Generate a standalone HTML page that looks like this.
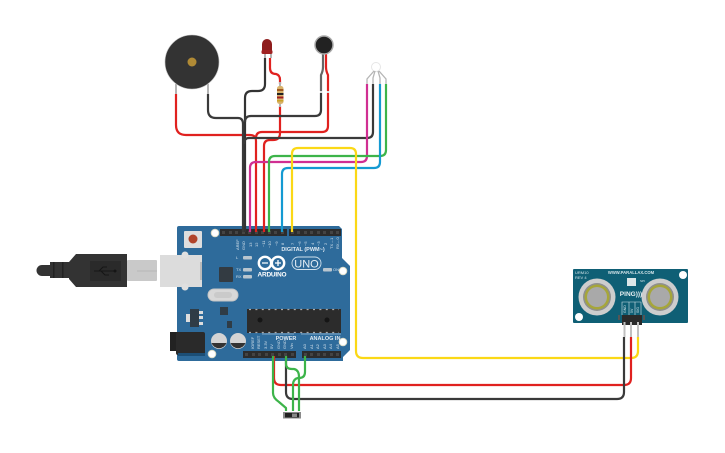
<!DOCTYPE html>
<html><head><meta charset="utf-8"><style>
html,body{margin:0;padding:0;background:#fff;width:725px;height:453px;overflow:hidden}
svg{display:block;filter:blur(.35px)}
text{font-family:"Liberation Sans",sans-serif}
.w{fill:none;stroke-width:2.2;stroke-linejoin:round;stroke-linecap:butt}
</style></head><body>
<svg width="725" height="453" viewBox="0 0 725 453" xmlns="http://www.w3.org/2000/svg">
<!-- USB cable -->
<path d="M50 265H42a5.500 5.500 0 0 0 0 11H50z" fill="#333"/>
<rect x="50" y="262" width="19" height="16" fill="#333"/>
<rect x="53" y="262" width="1.500" height="16" fill="#222"/><rect x="62" y="262" width="1.500" height="16" fill="#222"/>
<path d="M69 262L76 254H127V287H76L69 279z" fill="#333"/>
<rect x="90" y="261" width="31" height="20" fill="#2a2a2a"/>
<path d="M94 271H114M99 271L103 267H107M101 271L105 275H109" stroke="#151515" fill="none"/><circle cx="115" cy="271" r="1.500" fill="#151515"/>
<rect x="127" y="260" width="30" height="21" rx="1" fill="#c9c9c9"/>
<path d="M137 271H157" stroke="#b8b8b8"/>
<!-- Board -->
<path d="M179 226H339L342 229V258L350 266V350L343 357V361H179Q177 361 177 359V228Q177 226 179 226z" fill="#2e6b9b"/>
<rect x="160" y="255" width="42" height="32" fill="#dcdcdc"/>
<rect x="200" y="262" width="2" height="18" fill="#bbb"/>
<circle cx="185" cy="255" r="3.500" fill="#e0e0e0"/><circle cx="185" cy="287" r="3.500" fill="#e0e0e0"/>
<rect x="184" y="231" width="18" height="17" rx="1" fill="#dedede"/>
<circle cx="193" cy="239" r="4.500" fill="#b0432a"/>
<circle cx="215" cy="233" r="3.800" fill="#fff" stroke="#dcdcc8"/>
<circle cx="343" cy="271" r="3.800" fill="#fff" stroke="#dcdcc8"/>
<circle cx="343" cy="342" r="3.800" fill="#fff" stroke="#dcdcc8"/>
<circle cx="212" cy="354" r="3.800" fill="#fff" stroke="#dcdcc8"/>
<!-- headers -->
<g fill="#2c2c2c">
<rect x="220" y="229" width="67" height="7"/><rect x="289" y="229" width="52" height="7"/>
<rect x="243" y="351" width="53" height="7"/><rect x="302" y="351" width="39" height="7"/>
</g>
<g fill="#444">
<path d="M222 231h3v3h-3zM229 231h3v3h-3zM235 231h3v3h-3zM242 231h3v3h-3zM248 231h3v3h-3zM255 231h3v3h-3zM261 231h3v3h-3zM268 231h3v3h-3zM274 231h3v3h-3zM281 231h3v3h-3zM291 231h3v3h-3zM297 231h3v3h-3zM304 231h3v3h-3zM310 231h3v3h-3zM317 231h3v3h-3zM323 231h3v3h-3zM330 231h3v3h-3zM336 231h3v3h-3z"/>
<path d="M245 353h3v3h-3zM252 353h3v3h-3zM258 353h3v3h-3zM265 353h3v3h-3zM271 353h3v3h-3zM278 353h3v3h-3zM284 353h3v3h-3zM291 353h3v3h-3zM304 353h3v3h-3zM310 353h3v3h-3zM317 353h3v3h-3zM323 353h3v3h-3zM330 353h3v3h-3zM336 353h3v3h-3z"/>
</g>
<!-- pin labels -->
<g fill="#d5e2ec" font-size="4">
<text transform="translate(239,250) rotate(-90)">AREF</text>
<text transform="translate(245,250) rotate(-90)">GND</text>
<text transform="translate(252,247) rotate(-90)">13</text>
<text transform="translate(258,247) rotate(-90)">12</text>
<text transform="translate(265,247) rotate(-90)">~11</text>
<text transform="translate(271,248) rotate(-90)">~10</text>
<text transform="translate(278,246) rotate(-90)">~9</text>
<text transform="translate(284,245) rotate(-90)">8</text>
<text transform="translate(294,245) rotate(-90)">7</text>
<text transform="translate(301,246) rotate(-90)">~6</text>
<text transform="translate(307,246) rotate(-90)">~5</text>
<text transform="translate(314,245) rotate(-90)">4</text>
<text transform="translate(320,246) rotate(-90)">~3</text>
<text transform="translate(327,245) rotate(-90)">2</text>
<text transform="translate(333,249) rotate(-90)">TX→1</text>
<text transform="translate(339,249) rotate(-90)">RX←0</text>
<text transform="translate(254,349) rotate(-90)">IOREF</text>
<text transform="translate(260,349) rotate(-90)">RESET</text>
<text transform="translate(267,349) rotate(-90)">3.3V</text>
<text transform="translate(273,349) rotate(-90)">5V</text>
<text transform="translate(280,349) rotate(-90)">GND</text>
<text transform="translate(286,349) rotate(-90)">GND</text>
<text transform="translate(293,349) rotate(-90)">Vin</text>
<text transform="translate(306,349) rotate(-90)">A0</text>
<text transform="translate(313,349) rotate(-90)">A1</text>
<text transform="translate(319,349) rotate(-90)">A2</text>
<text transform="translate(326,349) rotate(-90)">A3</text>
<text transform="translate(332,349) rotate(-90)">A4</text>
<text transform="translate(339,349) rotate(-90)">A5</text>
</g>
<text x="303" y="251" font-size="5.500" font-weight="bold" fill="#dfe9f1" text-anchor="middle">DIGITAL (PWM~)</text>
<text x="286" y="340" font-size="5.500" font-weight="bold" fill="#dfe9f1" text-anchor="middle">POWER</text>
<text x="325" y="340" font-size="5.500" font-weight="bold" fill="#dfe9f1" text-anchor="middle">ANALOG IN</text>
<path d="M262 334H294M301 334H341" stroke="#9fbcd2" stroke-width=".8"/>
<!-- leds -->
<g fill="#b9c6cf">
<rect x="243" y="256" width="9" height="3.500" rx="1"/>
<rect x="243" y="268" width="9" height="3.500" rx="1"/>
<rect x="243" y="275" width="9" height="3.500" rx="1"/>
<rect x="323" y="268" width="9" height="3.500" rx="1"/>
</g>
<g fill="#d5e2ec" font-size="4"><text x="236" y="259">L</text><text x="236" y="271">TX</text><text x="236" y="278">RX</text><text x="333" y="271">ON</text></g>
<!-- logo -->
<g fill="none" stroke="#fff" stroke-width="2.400">
<circle cx="265" cy="263" r="6.200"/><circle cx="278" cy="263" r="6.200"/>
</g>
<path d="M262 263h6M275 263h6M278 260v6" stroke="#fff" stroke-width="1.300"/>
<text x="272" y="276.500" font-size="6.500" font-weight="bold" fill="#fff" text-anchor="middle" textLength="29">ARDUINO</text>
<rect x="292" y="257" width="29" height="12.500" rx="6.200" fill="none" stroke="#cfe0ec" stroke-width=".9"/>
<text x="306.500" y="267.300" font-size="11" fill="#e4eef5" text-anchor="middle">UNO</text>
<!-- components on board -->
<rect x="219" y="267" width="14" height="15" rx="1" fill="#333b42"/>
<rect x="208" y="289" width="30" height="12" rx="6" fill="#d8d8d8" stroke="#c5c5c5"/>
<rect x="214" y="292" width="18" height="6" rx="3" fill="#cacaca"/>
<rect x="220" y="307" width="8" height="8" fill="#2f3c46"/>
<rect x="190" y="309" width="9" height="18" fill="#2f3c46"/>
<rect x="186" y="314" width="4" height="8" fill="#ddd"/>
<rect x="199" y="311" width="4" height="3" fill="#ddd"/><rect x="199" y="316" width="4" height="3" fill="#ddd"/><rect x="199" y="322" width="4" height="3" fill="#ddd"/>
<rect x="227" y="321" width="5" height="7" fill="#2f3c46"/>
<!-- IC -->
<rect x="247" y="309" width="94" height="24" fill="#2c2c2c"/>
<path d="M249 309.500H339M249 332.500H339" stroke="#aaa" stroke-width="1.200" stroke-dasharray="2 4.400"/>
<circle cx="260" cy="320" r="2.500" fill="#151515"/><circle cx="327" cy="320" r="2.500" fill="#151515"/>
<!-- caps -->
<circle cx="219" cy="341" r="8" fill="#d4d4d4"/><path d="M211.500 343a8 8 0 0 0 15 0z" fill="#333"/>
<circle cx="238" cy="341" r="8" fill="#d4d4d4"/><path d="M230.500 343a8 8 0 0 0 15 0z" fill="#333"/>
<!-- jack -->
<rect x="170" y="332" width="8" height="19" fill="#222"/>
<rect x="176" y="332" width="29" height="23" rx="2" fill="#2a2a2a"/>
<rect x="178" y="353" width="27" height="3" fill="#1c4e75"/>
<!-- buzzer -->
<rect x="175" y="84" width="2" height="10" fill="#b5b5b5"/>
<rect x="207" y="84" width="2" height="10" fill="#b5b5b5"/>
<circle cx="192" cy="62" r="27" fill="#333" stroke="#bbb" stroke-width=".6"/>
<circle cx="192" cy="62" r="4.500" fill="#b08a35"/>
<!-- LED -->
<path d="M262 52V44a5 5 0 0 1 10 0V52z" fill="#8e1c1c"/>
<rect x="261.500" y="50" width="11" height="4" rx="1.500" fill="#a02222"/>
<rect x="264" y="54" width="2" height="4" fill="#b5b5b5"/><rect x="270" y="54" width="2" height="4" fill="#b5b5b5"/>
<!-- RGB -->
<circle cx="376" cy="67" r="4.500" fill="#fff" stroke="#e6e6e6"/>
<path d="M374 71L367 79V84M375 71L373 78V84M378 71L380 78V84M379 71L386 79V84" fill="none" stroke="#b5b5b5" stroke-width="1.300"/>
<!-- Wires top -->
<path class="w" stroke="#e0211f" d="M176 94V125Q176 135 186 135H250Q256 135 256 141V232"/>
<path class="w" stroke="#3a3a3a" d="M208 94V110Q208 118 216 118H238Q243 118 243 124V232"/>
<path class="w" stroke="#333" d="M265 58V84Q265 91 258 91H252Q245 91 245 98V232"/>
<path class="w" stroke="#e0211f" d="M270 58V68Q270 74 276 74Q280 75 280 80V84"/>
<path class="w" stroke="#e0211f" d="M280 106V133Q280 140 273 140H270Q264 140 264 146V232"/>
<path class="w" stroke="#3a3a3a" d="M321 93V110Q321 116 315 116H251Q245 116 245 122"/>
<path class="w" stroke="#e0211f" d="M328 93V126Q328 132 322 132H262Q256 132 256 138"/>
<!-- mic leads -->
<path class="w" stroke="#666" d="M323 54V67Q323 71 321 75V91"/>
<path class="w" stroke="#e0211f" d="M326 54V67Q326 71 328 75V91"/>
<rect x="320" y="91" width="2.200" height="2" fill="#ddd"/><rect x="327" y="91" width="2.200" height="2" fill="#ddd"/>
<circle cx="324" cy="45" r="9" fill="#222" stroke="#aaa" stroke-width="1.500"/>
<path class="w" stroke="#3a3a3a" d="M373 84V132Q373 138 367 138H249Q244 138 244 144"/>
<path class="w" stroke="#d02f92" d="M367 84V156Q367 162 361 162H256Q250 162 250 168V232"/>
<path class="w" stroke="#3db44a" d="M386 84V150Q386 156 380 156H275Q269 156 269 162V232"/>
<path class="w" stroke="#149ad2" d="M380 84V162Q380 168 374 168H288Q282 168 282 174V232"/>
<path class="w" stroke="#fbd816" d="M292 232V154Q292 148 298 148H350Q356 148 356 154V351Q356 358 363 358H631Q638 358 638 351V337"/>
<!-- Resistor -->
<rect x="279" y="82" width="2" height="4" fill="#b5b5b5"/><rect x="279" y="104" width="2" height="3" fill="#b5b5b5"/>
<rect x="277" y="86" width="6.500" height="18" rx="2.500" fill="#d9b26b"/>
<rect x="277" y="89" width="6.500" height="2" fill="#a05a20"/><rect x="277" y="93" width="6.500" height="2" fill="#222"/><rect x="277" y="96.500" width="6.500" height="2" fill="#a02020"/><rect x="277" y="100" width="6.500" height="1.500" fill="#c9a227"/>
<!-- Sensor -->
<rect x="573" y="269" width="115" height="54" rx="1" fill="#0f5f75"/>
<circle cx="683" cy="275" r="4" fill="#fff"/><circle cx="579" cy="317" r="4" fill="#fff"/>
<g>
<circle cx="597" cy="297" r="18.500" fill="#cdcdcd"/><circle cx="597" cy="297" r="14" fill="#8f8f8f"/><circle cx="597" cy="297" r="12.500" fill="#a6a63a"/><circle cx="597" cy="297" r="10" fill="#a9a9a9"/>
<circle cx="660" cy="297" r="18.500" fill="#cdcdcd"/><circle cx="660" cy="297" r="14" fill="#8f8f8f"/><circle cx="660" cy="297" r="12.500" fill="#a6a63a"/><circle cx="660" cy="297" r="10" fill="#a9a9a9"/>
</g>
<text x="575" y="274" font-size="4" fill="#d5e5ea">URM10</text><text x="575" y="279" font-size="4" fill="#d5e5ea">REV 4</text>
<text x="631" y="274" font-size="4.200" font-weight="bold" fill="#d5e5ea" text-anchor="middle">WWW.PARALLAX.COM</text>
<rect x="627" y="278" width="9" height="8" fill="#dce6e8"/>
<text x="640" y="282" font-size="3" fill="#d5e5ea">SPI</text>
<text x="631" y="296" font-size="6.500" font-weight="bold" fill="#e8f0f2" text-anchor="middle">PING)))</text>
<path d="M622 315V302H641V315M629 302V315M635 302V315" fill="none" stroke="#d5e5ea" stroke-width=".6"/>
<g fill="#d5e5ea" font-size="3.500"><text transform="translate(626,313) rotate(-90)">GND</text><text transform="translate(633,313) rotate(-90)">5V</text><text transform="translate(639,313) rotate(-90)">SIG</text></g>
<rect x="622" y="315" width="20" height="10" fill="#2a2a2a"/>
<rect x="618" y="315" width="2" height="5" fill="#555"/><rect x="643" y="315" width="2" height="5" fill="#555"/>
<rect x="623.500" y="322" width="2" height="15" fill="#c0c0c0"/><rect x="630" y="322" width="2" height="15" fill="#c0c0c0"/><rect x="637" y="322" width="2" height="15" fill="#c0c0c0"/>
<!-- Lower wires -->
<path class="w" stroke="#e0211f" d="M274 356V378Q274 385 281 385H624Q631 385 631 378V337"/>
<path class="w" stroke="#3a3a3a" d="M286 356V392Q286 399 293 399H617Q624 399 624 392V337"/>
<path class="w" stroke="#3db44a" d="M273 356V393Q273 398 279 402L286 408V411"/>
<path class="w" stroke="#3db44a" d="M286 356V364Q286 369 292 369H294Q299 370 299 377V411"/>
<path class="w" stroke="#3db44a" d="M305 356V372Q305 378 299 378H298Q293 379 293 385V411"/>
<!-- Switch -->
<rect x="283" y="412" width="18" height="6.500" fill="#8a8a8a"/>
<rect x="285" y="413" width="14" height="4.500" fill="#222"/>
<rect x="292" y="413.500" width="5" height="3.500" fill="#888"/>
</svg>
</body></html>
